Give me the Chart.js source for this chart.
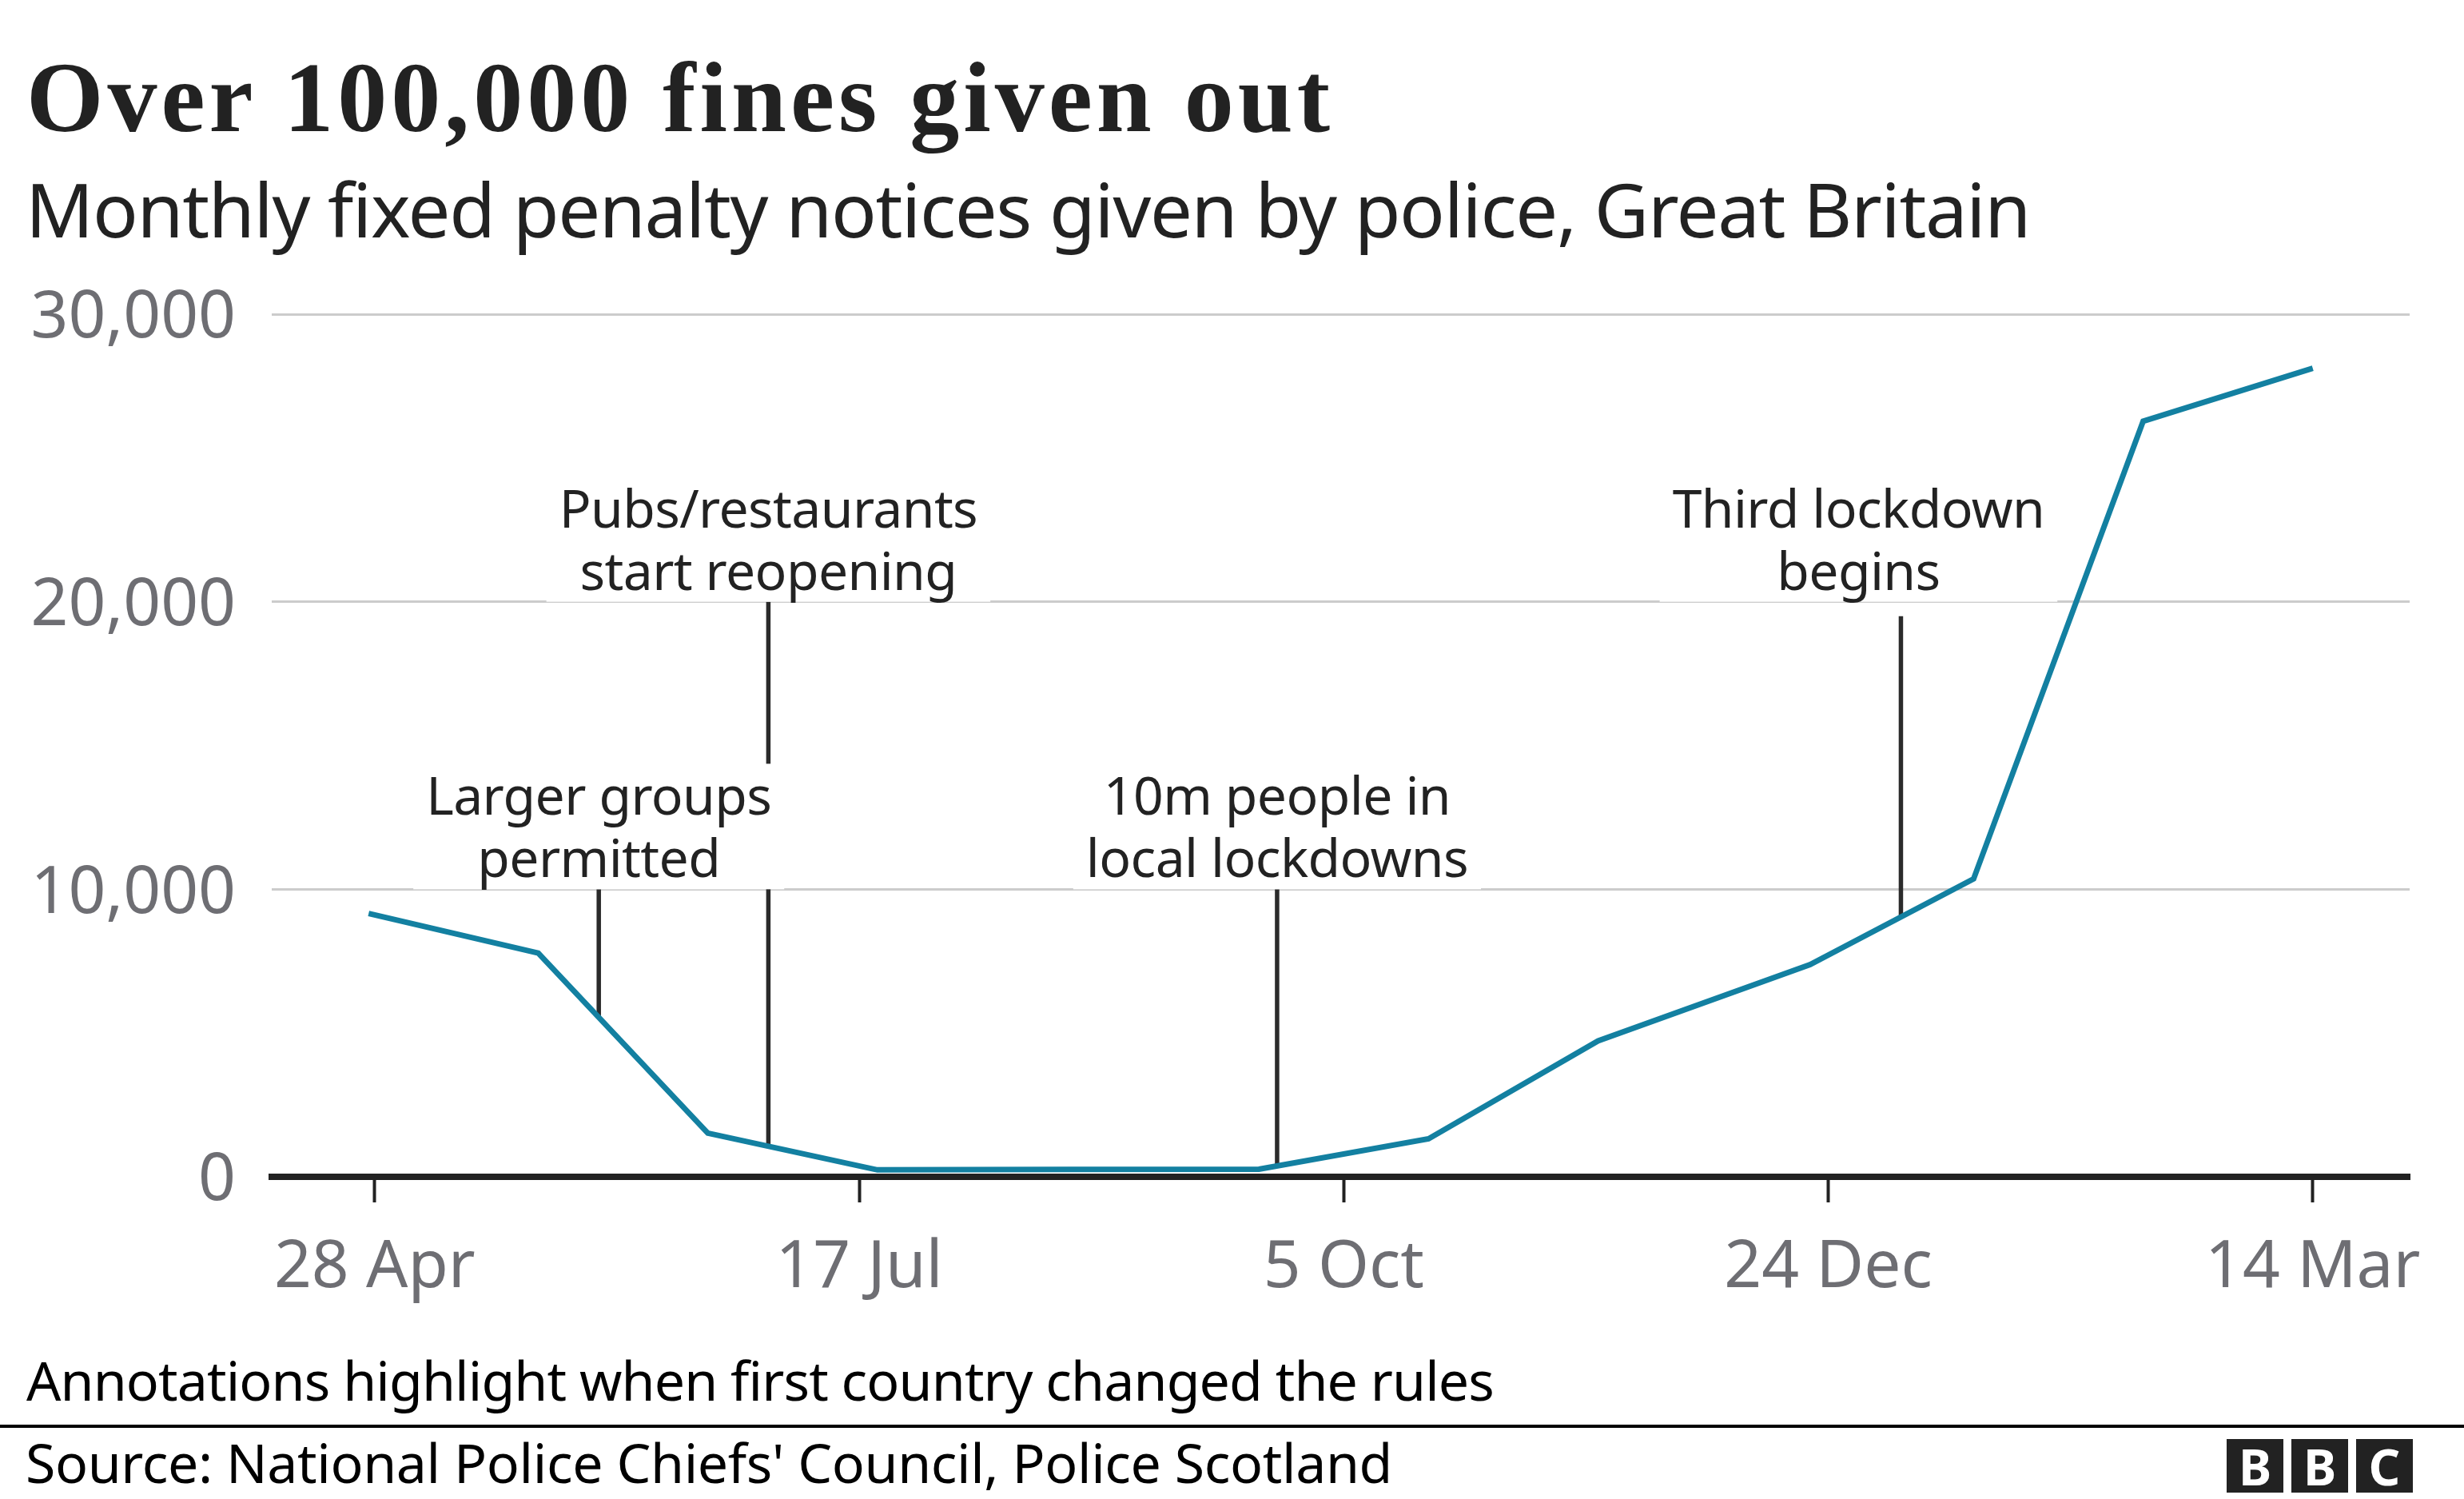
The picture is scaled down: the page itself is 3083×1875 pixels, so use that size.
<!DOCTYPE html>
<html>
<head>
<meta charset="utf-8">
<script src="https://cdn.jsdelivr.net/npm/chart.js@4.4.1/dist/chart.umd.min.js"></script>
<style>
  html, body { margin: 0; padding: 0; background: #fff; }
  body { width: 3083px; height: 1875px; position: relative; overflow: hidden; }
  #myChart { position: absolute; left: 0; top: 0; }
  .txt { position: absolute; white-space: nowrap; line-height: 1; }
  #title { font-family: "Liberation Serif", serif; font-weight: bold; font-size: 124px; color: #222; }
  #subtitle { font-family: "Noto Sans", sans-serif; font-size: 94px; color: #222; }
  #note, #source { font-family: "Noto Sans", sans-serif; font-size: 68px; color: #000; }
  #rule { position: absolute; left: 0; top: 1782px; width: 3083px; height: 4px; background: #000; }
  #bbc { position: absolute; left: 2786px; top: 1800px; display: flex; gap: 10px; }
  #bbc span { width: 71px; height: 67px; background: #222; color: #fff; font: bold 62px "Noto Sans", sans-serif; line-height: 1; display: flex; align-items: center; justify-content: center; }
</style>
</head>
<body>
<div id="title" class="txt">Over 100,000 fines given out</div>
<div id="subtitle" class="txt">Monthly fixed penalty notices given by police, Great Britain</div>
<canvas id="myChart" width="3083" height="1875"></canvas>
<div id="note" class="txt">Annotations highlight when first country changed the rules</div>
<div id="rule"></div>
<div id="source" class="txt">Source: National Police Chiefs' Council, Police Scotland</div>
<div id="bbc"><span>B</span><span>B</span><span>C</span></div>

<script>
// fixed penalty notices, by end of reporting period
const periodEnds = ["2020-04-27", "2020-05-25", "2020-06-22", "2020-07-20", "2020-08-21", "2020-09-21",
  "2020-10-19", "2020-11-16", "2020-12-21", "2021-01-17", "2021-02-14", "2021-03-14"];
const fines = [9160, 7780, 1520, 240, 255, 265, 1320, 4730, 7380, 10360, 26280, 28120];

const tickDates = ["2020-04-28", "2020-07-17", "2020-10-05", "2020-12-24", "2021-03-14"];
const tickLabels = ["28 Apr", "17 Jul", "5 Oct", "24 Dec", "14 Mar"];
const yTicks = [0, 10000, 20000, 30000];

// annotations
const noteDates = ["2020-06-04", "2020-07-02", "2020-09-24", "2021-01-05"];
const noteLabelDates = ["2020-06-04", "2020-07-02", "2020-09-24", "2020-12-29"];
const noteTexts = [
  ["Larger groups", "permitted"],
  ["Pubs/restaurants", "start reopening"],
  ["10m people in", "local lockdowns"],
  ["Third lockdown", "begins"],
];
const noteLabelLevels = [10000, 20000, 10000, 20000];
const noteLineTops = [10000, 20000, 10000, 19500];

const startDay = Date.parse("2020-04-28");
function dayNum(d) {
  return (Date.parse(d) - startDay) / 86400000;
}

function valueAt(day) {
  for (let i = 1; i < periodEnds.length; i++) {
    const d0 = dayNum(periodEnds[i - 1]);
    const d1 = dayNum(periodEnds[i]);
    if (day >= d0 && day <= d1) {
      return fines[i - 1] + (fines[i] - fines[i - 1]) * (day - d0) / (d1 - d0);
    }
  }
  return 0;
}

const annotationPlugin = {
  id: "annotations",
  beforeDatasetsDraw(chart) {
    const { ctx } = chart;
    const x = chart.scales.x;
    const y = chart.scales.y;
    ctx.save();
    ctx.strokeStyle = "#2b2b2b";
    ctx.lineWidth = 5.5;
    noteDates.forEach((d, i) => {
      const day = dayNum(d);
      const px = x.getPixelForValue(day);
      ctx.beginPath();
      ctx.moveTo(px, y.getPixelForValue(noteLineTops[i]));
      ctx.lineTo(px, y.getPixelForValue(valueAt(day)));
      ctx.stroke();
    });

    ctx.font = '66px "Noto Sans"';
    ctx.letterSpacing = "-0.6px";
    ctx.textAlign = "center";
    ctx.textBaseline = "alphabetic";
    noteTexts.forEach((lines, i) => {
      const cx = x.getPixelForValue(dayNum(noteLabelDates[i]));
      const base = y.getPixelForValue(noteLabelLevels[i]);
      const w = Math.max(...lines.map((t) => ctx.measureText(t).width));
      ctx.fillStyle = "#fff";
      ctx.fillRect(cx - w / 2 - 16, base - 157, w + 32, 157);
      ctx.fillStyle = "#222";
      ctx.fillText(lines[0], cx, base - 93);
      ctx.fillText(lines[1], cx, base - 15);
    });
    ctx.restore();
  },
};

const tickFont = { family: "Noto Sans", size: 82 };
const tickColor = "#6e6e73";

function criarGrafico() {
  const ctx = document.querySelector("#myChart").getContext("2d");
  return new Chart(ctx, {
    type: "line",
    data: {
      datasets: [{
        data: periodEnds.map((d, i) => ({ x: dayNum(d), y: fines[i] })),
        borderColor: "#1380A1",
        borderWidth: 7,
        pointRadius: 0,
        tension: 0,
        borderJoinStyle: "miter",
        borderCapStyle: "butt",
        fill: false,
      }],
    },
    options: {
      responsive: false,
      animation: false,
      devicePixelRatio: 1,
      layout: { padding: { top: 393, right: 68, bottom: 0, left: 0 } },
      plugins: { legend: { display: false }, tooltip: { enabled: false } },
      scales: {
        x: {
          type: "linear",
          min: dayNum("2020-04-11"),
          max: dayNum("2021-03-30"),
          afterBuildTicks: (s) => { s.ticks = tickDates.map((d) => ({ value: dayNum(d) })); },
          afterFit: (s) => { s.height = 403; },
          ticks: {
            callback: (v, i) => tickLabels[i],
            font: tickFont,
            color: tickColor,
            padding: 33,
            maxRotation: 0,
            autoSkip: false,
          },
          grid: { drawOnChartArea: false, drawTicks: true, tickLength: 32, tickWidth: 4, tickColor: "#222" },
          border: { display: true, color: "#222", width: 8 },
        },
        y: {
          min: 0,
          max: 30000,
          afterBuildTicks: (s) => { s.ticks = yTicks.map((v) => ({ value: v })); },
          afterFit: (s) => { s.width = 340; },
          ticks: {
            callback: (v) => v.toLocaleString("en-GB"),
            font: tickFont,
            color: tickColor,
            padding: 45,
            labelOffset: 6,
          },
          grid: {
            color: (c) => (c.tick && c.tick.value === 0 ? "rgba(0,0,0,0)" : "#cccccc"),
            lineWidth: 3,
            drawTicks: false,
          },
          border: { display: false },
        },
      },
    },
    plugins: [annotationPlugin],
  });
}

// put a text block on a baseline and stretch it to the measured width
function place(id, left, baseline, width) {
  const el = document.getElementById(id);
  const marker = document.createElement("span");
  marker.style.cssText = "display:inline-block;width:0;height:0;vertical-align:baseline";
  el.appendChild(marker);
  el.style.left = left + "px";
  el.style.top = "0px";
  const w = el.getBoundingClientRect().width;
  const n = el.textContent.length;
  el.style.letterSpacing = ((width - w) / n) + "px";
  const b = marker.getBoundingClientRect().top;
  el.style.top = (baseline - b) + "px";
}

place("title", 33, 164, 1636);
place("subtitle", 32, 297, 2508);
place("note", 33, 1752, 1836);
place("source", 32, 1855, 1710);

let myChart = criarGrafico();
</script>
</body>
</html>
